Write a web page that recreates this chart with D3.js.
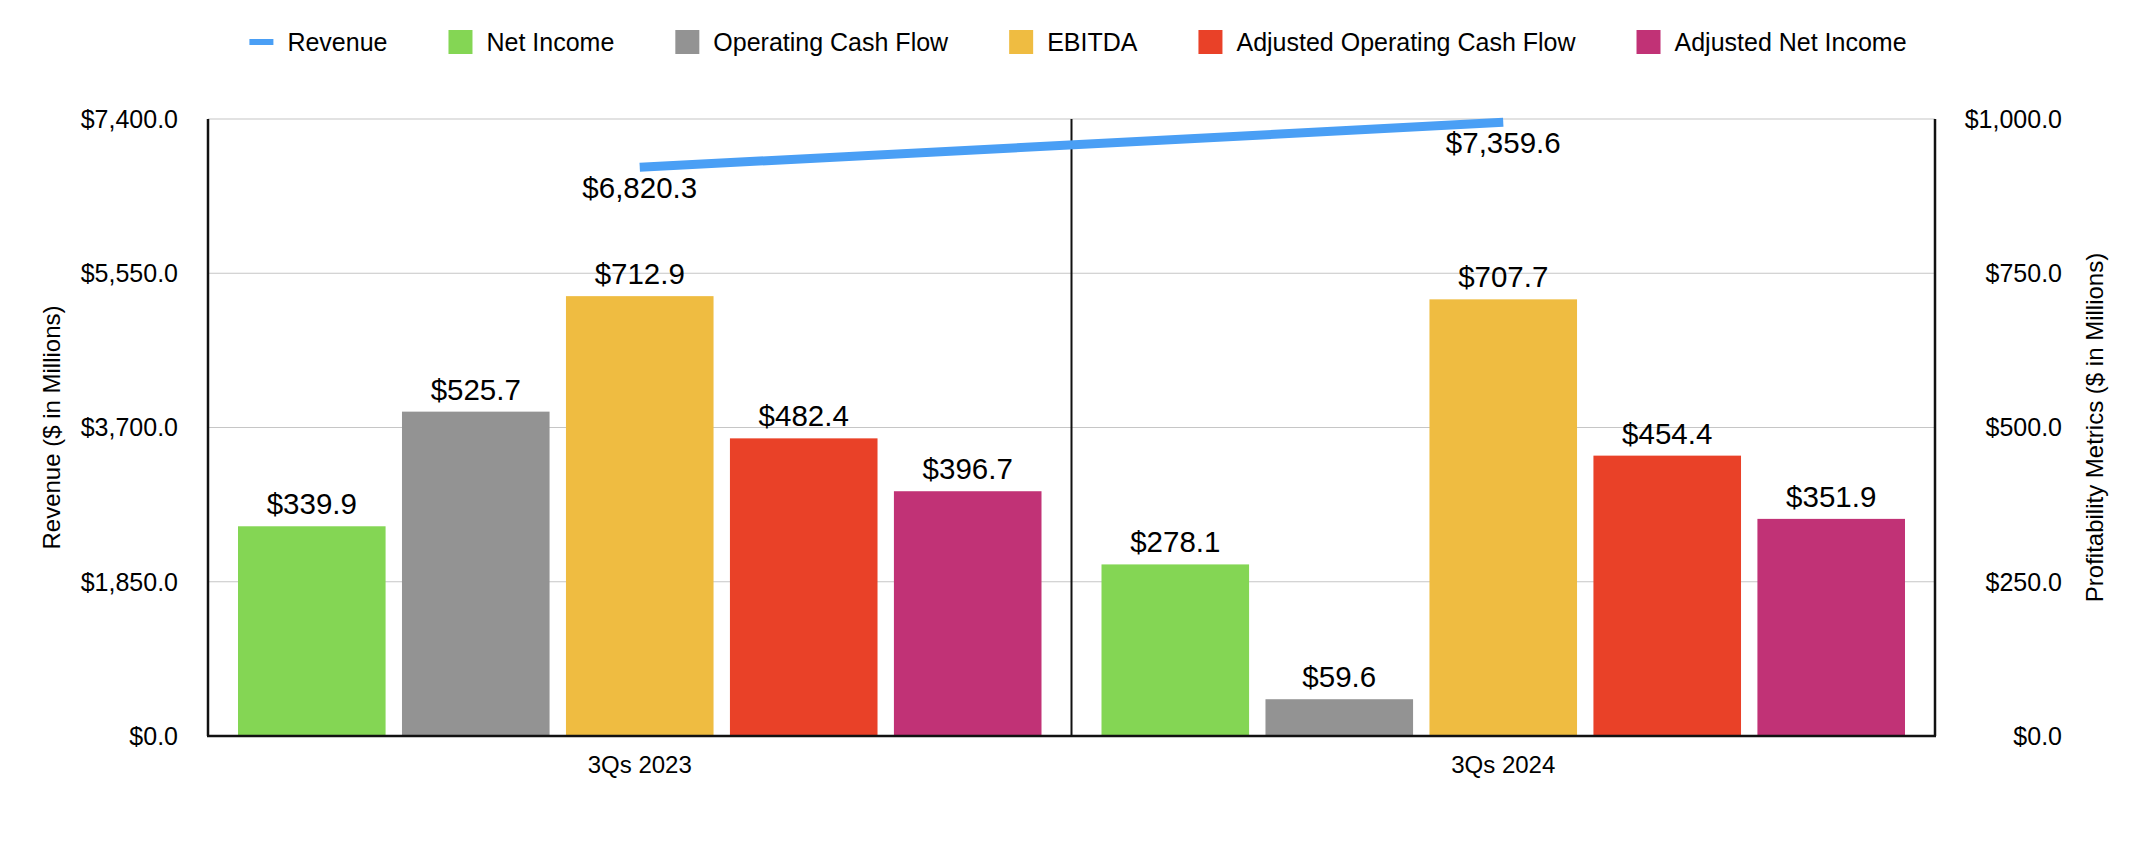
<!DOCTYPE html>
<html>
<head>
<meta charset="utf-8">
<script src="https://cdn.jsdelivr.net/npm/d3@7"></script>
<style>
  body { margin: 0; background: #fff; }
  text { font-family: "Liberation Sans", Arial, Helvetica, sans-serif; fill: #000; }
</style>
</head>
<body>
<svg id="chart" width="2150" height="850"></svg>
<script>
var periods     = ['3Qs 2023', '3Qs 2024'],
    metrics     = ['Net Income', 'Operating Cash Flow', 'EBITDA', 'Adjusted Operating Cash Flow', 'Adjusted Net Income'],
    metricColors = ['#84d654', '#939393', '#efbc41', '#e94128', '#c13276'],
    revenue     = [6820.3, 7359.6],
    netIncome   = [339.9, 278.1],
    opCashFlow  = [525.7, 59.6],
    ebitda      = [712.9, 707.7],
    adjOpCash   = [482.4, 454.4],
    adjNetInc   = [396.7, 351.9],
    leftTicks   = [0, 1850, 3700, 5550, 7400],
    rightTicks  = [0, 250, 500, 750, 1000];

var metricValues = [netIncome, opCashFlow, ebitda, adjOpCash, adjNetInc];

// note: "top" is a read-only global in browsers, so use plot* names
var svg        = d3.select('#chart'),
    plotLeft   = 208,
    plotRight  = 1935,
    plotTop    = 119,
    plotBottom = 736,
    money      = function(v) { return '$' + d3.format(',.1f')(v); };

var x0 = d3.scaleBand().domain(periods).range([plotLeft, plotRight]).padding(0),
    x1 = d3.scaleBand().domain(metrics).range([30, x0.bandwidth() - 30]).paddingInner(0.1),
    yL = d3.scaleLinear().domain([0, 7400]).range([plotBottom, plotTop]),
    yR = d3.scaleLinear().domain([0, 1000]).range([plotBottom, plotTop]),
    color = d3.scaleOrdinal().domain(metrics).range(metricColors);

// gridlines
svg.append('g')
    .selectAll('line')
    .data(leftTicks.slice(1))
    .enter().append('line')
    .attr('x1', plotLeft).attr('x2', plotRight)
    .attr('y1', function(d) { return yL(d); })
    .attr('y2', function(d) { return yL(d); })
    .style('stroke', '#c6c6c6')
    .style('stroke-width', 1.2);

// bars
var groups = svg.append('g')
    .selectAll('g')
    .data(periods)
    .enter().append('g')
    .attr('transform', function(d) { return 'translate(' + x0(d) + ',0)'; });

var bars = groups.selectAll('g')
    .data(function(d, i) {
        return metrics.map(function(m, j) { return { metric: m, value: metricValues[j][i] }; });
    })
    .enter().append('g');

bars.append('rect')
    .attr('x', function(d) { return x1(d.metric); })
    .attr('width', x1.bandwidth())
    .attr('y', function(d) { return yR(d.value); })
    .attr('height', function(d) { return plotBottom - yR(d.value); })
    .style('fill', function(d) { return color(d.metric); });

bars.append('text')
    .attr('x', function(d) { return x1(d.metric) + x1.bandwidth() / 2; })
    .attr('y', function(d) { return yR(d.value) - 12; })
    .attr('text-anchor', 'middle')
    .style('font-size', '29.5px')
    .text(function(d) { return money(d.value); });

// axes lines
svg.append('line')
    .attr('x1', plotLeft).attr('x2', plotLeft).attr('y1', plotTop).attr('y2', plotBottom)
    .style('stroke', '#111').style('stroke-width', 2.5);
svg.append('line')
    .attr('x1', plotRight).attr('x2', plotRight).attr('y1', plotTop).attr('y2', plotBottom)
    .style('stroke', '#111').style('stroke-width', 2.5);
svg.append('line')
    .attr('x1', x0(periods[1])).attr('x2', x0(periods[1])).attr('y1', plotTop).attr('y2', plotBottom)
    .style('stroke', '#111').style('stroke-width', 2);
svg.append('line')
    .attr('x1', plotLeft - 1).attr('x2', plotRight + 1).attr('y1', plotBottom).attr('y2', plotBottom)
    .style('stroke', '#111').style('stroke-width', 2.5);

// revenue line
var line = d3.line()
    .x(function(d, i) { return x0(periods[i]) + x0.bandwidth() / 2; })
    .y(function(d) { return yL(d); });

svg.append('path')
    .datum(revenue)
    .attr('d', line)
    .style('fill', 'none')
    .style('stroke', '#4a9ff5')
    .style('stroke-width', 9);

svg.append('g')
    .selectAll('text')
    .data(revenue)
    .enter().append('text')
    .attr('x', function(d, i) { return x0(periods[i]) + x0.bandwidth() / 2; })
    .attr('y', function(d) { return yL(d) + 31; })
    .attr('text-anchor', 'middle')
    .style('font-size', '29.5px')
    .text(money);

// tick labels
svg.append('g')
    .selectAll('text')
    .data(leftTicks)
    .enter().append('text')
    .attr('x', 178)
    .attr('y', function(d) { return yL(d); })
    .attr('dy', '0.35em')
    .attr('text-anchor', 'end')
    .style('font-size', '25px')
    .text(money);

svg.append('g')
    .selectAll('text')
    .data(rightTicks)
    .enter().append('text')
    .attr('x', 2062)
    .attr('y', function(d) { return yR(d); })
    .attr('dy', '0.35em')
    .attr('text-anchor', 'end')
    .style('font-size', '25px')
    .text(money);

svg.append('g')
    .selectAll('text')
    .data(periods)
    .enter().append('text')
    .attr('x', function(d) { return x0(d) + x0.bandwidth() / 2; })
    .attr('y', 773)
    .attr('text-anchor', 'middle')
    .style('font-size', '24px')
    .text(function(d) { return d; });

// axis titles
svg.append('text')
    .attr('transform', 'translate(60,' + (plotTop + plotBottom) / 2 + ') rotate(-90)')
    .attr('text-anchor', 'middle')
    .style('font-size', '24px')
    .text('Revenue ($ in Millions)');

svg.append('text')
    .attr('transform', 'translate(2103,' + (plotTop + plotBottom) / 2 + ') rotate(-90)')
    .attr('text-anchor', 'middle')
    .style('font-size', '24px')
    .text('Profitability Metrics ($ in Millions)');

// legend
var legendItems = ['Revenue'].concat(metrics),
    legend = svg.append('g'),
    lx = 0;

legendItems.forEach(function(name, i) {
    var item = legend.append('g').attr('transform', 'translate(' + lx + ',0)');
    if (i === 0) {
        item.append('rect')
            .attr('x', 0).attr('y', 39).attr('width', 24).attr('height', 6)
            .style('fill', '#4a9ff5');
    } else {
        item.append('rect')
            .attr('x', 0).attr('y', 30).attr('width', 24).attr('height', 24)
            .style('fill', color(name));
    }
    var t = item.append('text')
        .attr('x', 38)
        .attr('y', 42)
        .attr('dy', '0.35em')
        .style('font-size', '25px')
        .text(name);
    lx += 38 + t.node().getComputedTextLength() + 61;
});

var legendWidth = lx - 61;
legend.attr('transform', 'translate(' + (1078 - legendWidth / 2) + ',0)');
</script>
</body>
</html>
